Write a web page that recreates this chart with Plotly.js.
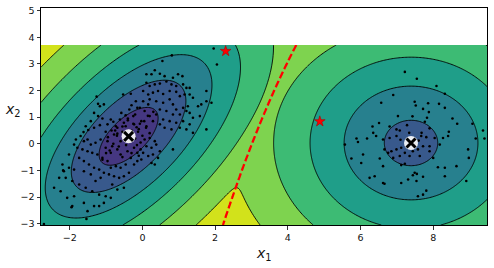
<!DOCTYPE html>
<html><head><meta charset="utf-8">
<script src="https://cdn.plot.ly/plotly-3.0.1.min.js"></script>
<style>html,body{margin:0;padding:0;background:#fff}#chart{width:494px;height:268px}</style>
</head><body><div id="chart"></div>
<script>
// Gaussian mixture parameters
const weights = [0.76, 0.24];
const meanX = [-0.38, 7.39];
const meanY = [0.28, 0.03];
const covXX = [0.76, 0.78];
const covXY = [0.64, 0.0];
const covYY = [1.36, 1.05];
// contour grid extent
const gridXRange = [-2.79, 9.48];
const gridYRange = [-3.05, 3.71];
// contour levels: logspace(0, 2, 12)
const levelExpRange = [0, 2];
const nLevels = 12;
const bandColors = ['#471365','#471365','#453781','#38598c','#27808e','#1f9e89','#3dbb74','#7ed34f','#d2e21b','#fde725','#fde725','#fde725','#fde725'];
// data points
const leftX = [1.96,2.05,0.81,0.55,0.11,0.25,0.34,0.48,0.61,0.98,1.10,0.84,0.11,0.2,0.34,0.48,0.66,0.80,0.93,1.12,1.21,1.30,0.02,0.16,0.29,0.43,0.57,0.75,0.93,1.03,1.16,1.30,1.39,1.53,1.62,1.76,1.76,1.90,0.02,0.2,0.38,0.57,0.75,0.84,0.93,1.12,1.21,1.30,1.25,1.03,0.84,0.66,0.48,0.38,0.57,0.75,0.93,1.12,1.30,1.21,1.03,0.80,0.61,0.48,-0.07,0.06,0.2,0.29,1.39,1.58,1.39,1.76,0.16,-0.03,0.11,
 -1.26,-1.17,-1.06,-1.33,-1.22,-1.10,-0.96,-1.17,-1.01,-1.33,-0.85,-0.73,-0.62,-0.51,-0.40,-0.25,-0.14,-0.30,-0.18,-0.53,-0.32,-0.55,-0.69,-1.62,-1.49,-0.41,-0.16,-0.07,-0.12,-0.46,-0.80,-0.36,-0.23,-0.58,-0.69,-0.87,-1.42,-1.56,-0.28,-0.46,-0.78,-1.22,
 -1.61,-1.51,-1.42,-1.29,-1.15,-0.96,-0.83,-0.69,-1.01,-0.87,-0.60,-0.41,-0.23,-0.14,-0.05,-0.32,-0.46,-0.60,-0.73,-0.87,-0.96,-1.10,-1.24,-1.38,-1.51,-1.65,-1.79,-1.88,-1.74,-1.61,-1.47,-1.33,-1.19,-1.06,-0.92,-0.78,-0.64,-0.51,-0.37,-1.15,-1.29,-1.42,-1.61,-1.88,-2.02,-2.16,-2.11,-1.93,-1.74,-1.56,-1.38,-1.19,-1.01,-0.87,-0.69,-0.51,-1.88,-2.07,-2.25,-2.43,-1.61,-1.33,-1.06,-1.93,-1.51,-1.19,-2.71,-2.29,-2.20,-2.02,-1.83,-1.70,-0.83,-0.23,-0.14,
 0.06,0.2,0.34,0.11,0.25,0.38,0.02,0.16,0.29,0.43,-0.03,0.25,0.34,0.84,0.48,
 -2.18,-1.95,-1.54,
 -0.5,-0.3,-0.2,-0.6,-0.45,-0.1,0.0,-0.7,-0.8,-0.25,-0.55,-0.05,0.1,-0.35,-0.65,-0.9,-0.15,0.05,-0.4,0.2,-0.75,-1.0,-0.3,0.15,-0.2,-0.55,-1.1,-0.95,0.3,-0.1];
const leftY = [3.58,2.98,3.32,3.11,2.61,2.61,2.76,2.63,2.54,2.61,2.54,2.48,2.29,2.17,2.23,2.26,2.34,2.23,2.17,2.23,2.1,2.1,1.98,1.85,1.92,1.98,1.87,1.98,1.95,1.79,1.85,1.85,1.73,1.41,1.48,1.98,1.60,1.54,1.60,1.67,1.60,1.54,1.67,1.48,1.29,1.35,1.23,1.16,1.41,1.10,1.10,1.23,1.29,1.10,0.91,0.85,0.79,0.85,0.73,0.54,0.60,0.54,0.60,0.73,1.35,1.23,1.04,0.85,0.98,1.04,0.41,0.54,1.48,0.85,0.66,
 1.77,1.41,1.48,1.16,1.04,0.95,0.73,0.70,0.45,0.60,0.50,0.66,0.91,0.79,0.88,1.04,1.35,1.45,1.60,1.85,1.88,0.45,0.38,0.44,0.52,0.48,0.62,0.75,0.45,1.07,0.83,1.29,0.73,1.16,0.60,0.91,0.85,0.66,0.45,0.66,0.35,1.5,
 0.10,0.16,-0.03,0.04,0.16,0.10,-0.09,-0.21,-0.15,-0.34,-0.40,-0.28,-0.15,-0.34,-0.21,-0.53,-0.78,-0.90,-0.84,-0.90,-0.65,-0.53,-0.40,-0.34,-0.28,-0.21,-0.15,-0.03,-0.53,-0.65,-0.78,-0.90,-0.97,-1.09,-1.15,-1.22,-1.28,-1.22,-1.09,-1.28,-1.40,-1.15,-1.03,-0.97,-0.90,-1.03,-1.28,-1.40,-1.53,-1.65,-1.78,-1.91,-1.97,-2.03,-1.72,-1.65,-1.97,-2.03,-1.78,-1.65,-2.22,-2.34,-2.22,-2.34,-2.53,-2.34,-3.01,-1.28,-0.78,-0.40,0.16,0.29,-1.53,-0.78,-0.65,
 0.16,0.22,0.10,-0.09,-0.15,-0.03,-0.34,-0.46,-0.40,-0.53,-0.59,-0.72,-0.78,-0.21,-0.28,
 -1.0,-2.38,-2.82,
 0.4,0.5,0.2,0.1,-0.05,0.55,0.3,0.3,0.0,0.75,0.65,0.05,0.6,0.1,-0.1,-0.25,-0.05,0.85,0.95,0.4,0.5,-0.35,-0.35,1.05,1.1,-0.5,-0.6,0.25,1.2,-0.45];
const rightX = [7.22,7.55,8.09,8.32,6.90,6.57,7.49,7.52,7.86,7.72,7.88,8.16,8.32,7.03,7.43,7.83,8.53,8.66,9.08,9.37,6.33,6.51,6.80,6.99,7.08,7.28,7.77,7.90,8.43,6.35,7.34,7.68,
 5.89,5.93,6.18,6.43,6.62,6.80,6.99,7.67,7.81,8.04,8.27,8.41,9.41,5.57,6.66,6.76,6.85,6.99,7.12,7.22,7.44,7.58,7.72,7.90,7.90,7.63,7.35,7.08,6.90,7.22,7.12,5.75,6.07,6.02,6.53,6.62,8.96,8.98,8.64,8.13,8.32,7.49,7.55,7.72,7.44,8.32,6.25,6.39,6.62,6.66,7.12,7.54,7.31,8.91,7.81,7.72,7.58,9.17,8.00,8.18,
 7.3,7.5,7.1,7.6];
const rightY = [2.70,2.44,2.17,1.88,1.83,1.54,1.58,1.44,1.52,1.31,1.19,1.50,1.35,1.04,1.03,0.98,0.95,0.75,0.75,0.50,0.65,0.78,0.65,0.54,0.50,0.70,0.83,0.58,0.45,0.41,0.41,0.41,
 0.20,0.07,0.20,0.29,0.16,0.22,0.29,0.29,0.25,0.22,0.22,0.29,0.20,-0.03,-0.21,-0.34,-0.28,-0.21,-0.15,-0.34,-0.28,-0.21,-0.09,-0.09,-0.28,-0.46,-0.46,-0.46,-0.53,-0.75,-0.80,-0.55,-0.40,-0.72,-0.55,-0.84,-0.21,-0.53,-0.84,-0.88,-0.90,-1.09,-1.13,-1.24,-1.18,-1.22,-1.28,-1.22,-1.47,-1.50,-1.47,-1.40,-1.34,-1.40,-1.76,-1.91,-1.97,0.20,-0.53,-0.03,
 0.1,0.0,0.15,0.12];
const anomalyX = [2.29, 4.88];
const anomalyY = [3.48, 0.84];
const xTickVals = [-2, 0, 2, 4, 6, 8];
const yTickVals = [-3, -2, -1, 0, 1, 2, 3, 4, 5];
const xRange = [-2.79, 9.48];
const yRange = [-3.05, 5.1];

// ---- model evaluation on a grid ----
function compLogDens(k, x, y) {
  const dx = x - meanX[k], dy = y - meanY[k];
  const det = covXX[k] * covYY[k] - covXY[k] * covXY[k];
  const d2 = (covYY[k] * dx * dx - 2 * covXY[k] * dx * dy + covXX[k] * dy * dy) / det;
  return Math.log(weights[k]) - Math.log(2 * Math.PI) - 0.5 * Math.log(det) - 0.5 * d2;
}
const NX = 320, NY = 180;
const gx = [], gy = [];
for (let i = 0; i < NX; i++) gx.push(gridXRange[0] + (gridXRange[1] - gridXRange[0]) * i / (NX - 1));
for (let j = 0; j < NY; j++) gy.push(gridYRange[0] + (gridYRange[1] - gridYRange[0]) * j / (NY - 1));
const zLevel = [], zBound = [];
const scale = (nLevels - 1) / (levelExpRange[1] - levelExpRange[0]);
for (let j = 0; j < NY; j++) {
  const rowL = [], rowB = [];
  for (let i = 0; i < NX; i++) {
    const a = compLogDens(0, gx[i], gy[j]);
    const b = compLogDens(1, gx[i], gy[j]);
    const m = Math.max(a, b);
    const lse = m + Math.log(Math.exp(a - m) + Math.exp(b - m));
    const Z = -lse;
    rowL.push(scale * (Math.log10(Z) - levelExpRange[0]));
    rowB.push(a - b);
  }
  zLevel.push(rowL); zBound.push(rowB);
}
// stepped colorscale: region j evaluated at j/nLevels
const cs = [];
for (let j = 0; j <= nLevels; j++) {
  const lo = Math.max(0, (j - 0.5) / nLevels), hi = Math.min(1, (j + 0.5) / nLevels);
  cs.push([lo, bandColors[j]]); cs.push([hi, bandColors[j]]);
}

const font = {family: 'DejaVu Sans', size: 9.5, color: '#111'};
const traces = [
  {type: 'contour', x: gx, y: gy, z: zLevel, showscale: false, hoverinfo: 'skip',
   autocontour: false, contours: {start: 0, end: nLevels - 1, size: 1, coloring: 'fill'},
   colorscale: cs, zmin: -0.5, zmax: nLevels + 0.5,
   line: {color: '#000', width: 0.9, smoothing: 1}},
  {type: 'contour', x: gx, y: gy, z: zBound, showscale: false, hoverinfo: 'skip',
   autocontour: false, contours: {start: 0, end: 0, size: 1, coloring: 'none'},
   line: {color: '#ff0000', width: 2.3, dash: '7px,3px', smoothing: 1}},
  {type: 'scatter', mode: 'markers', x: leftX.concat(rightX), y: leftY.concat(rightY),
   marker: {color: '#000', size: 2.6}, hoverinfo: 'skip'},
  {type: 'scatter', mode: 'markers', x: anomalyX, y: anomalyY,
   marker: {symbol: 'star', color: '#ff0000', size: 8, line: {color: '#b00000', width: 0.6}}},
  {type: 'scatter', mode: 'markers', x: meanX, y: meanY,
   marker: {symbol: 'circle', color: '#ffffff', size: 14, opacity: 0.9, line: {width: 0}}},
  {type: 'scatter', mode: 'markers', x: meanX, y: meanY,
   marker: {symbol: 'x-thin', color: '#000', size: 9, line: {color: '#000', width: 3}}}
];
const axisCommon = {showgrid: false, zeroline: false, ticks: 'outside', ticklen: 3.5, tickwidth: 0.8,
  tickcolor: '#000', showline: true, mirror: true, linecolor: '#000', linewidth: 1, tickfont: font};
const layout = {
  width: 494, height: 268, showlegend: false,
  margin: {l: 41, r: 7, t: 8, b: 43, pad: 0},
  paper_bgcolor: '#fff', plot_bgcolor: '#fff',
  xaxis: Object.assign({range: xRange, tickvals: xTickVals}, axisCommon),
  yaxis: Object.assign({range: yRange, tickvals: yTickVals}, axisCommon),
  annotations: [
    {text: '<i>x</i><sub>1</sub>', xref: 'paper', yref: 'paper', x: 0.5, y: -0.135, xanchor: 'center', yanchor: 'middle',
     showarrow: false, font: {family: 'DejaVu Sans', size: 14, color: '#111'}},
    {text: '<i>x</i><sub>2</sub>', xref: 'paper', yref: 'paper', x: -0.062, y: 0.53, xanchor: 'center', yanchor: 'middle',
     showarrow: false, font: {family: 'DejaVu Sans', size: 14, color: '#111'}}
  ]
};
Plotly.newPlot('chart', traces, layout, {staticPlot: true, displayModeBar: false});
</script>
</body></html>
